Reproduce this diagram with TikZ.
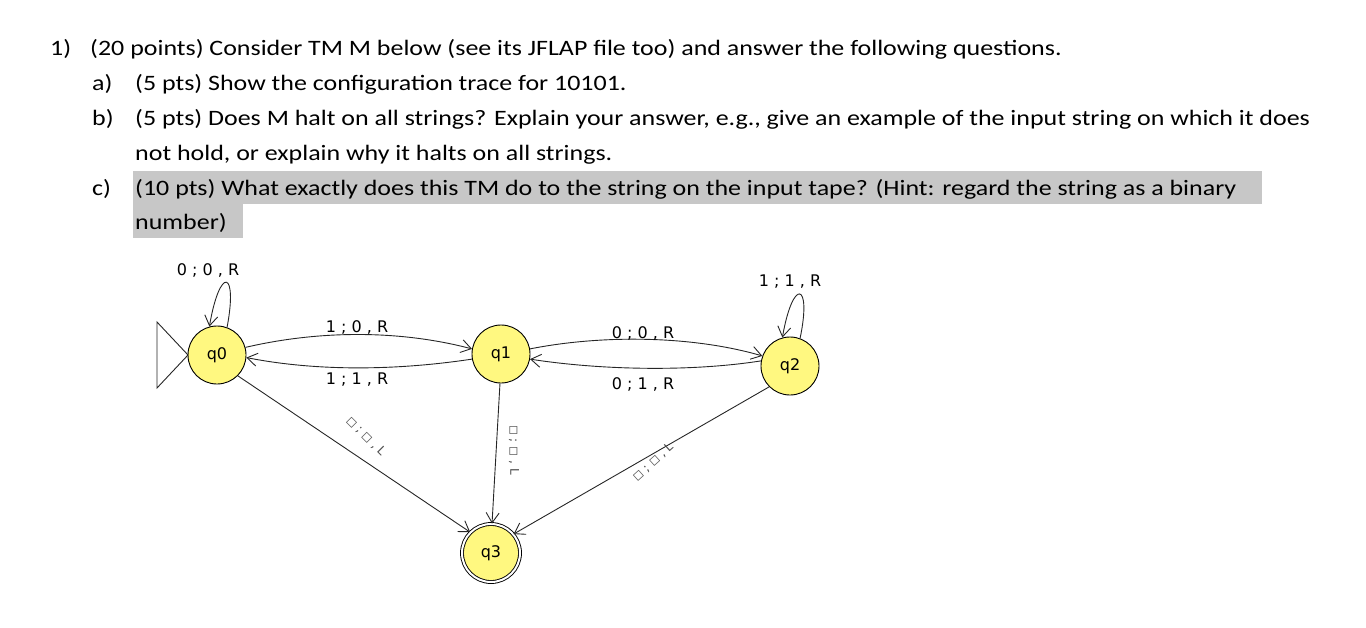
\documentclass[tikz,border=0pt]{standalone}
\usepackage{fontspec}
\setmainfont[FakeStretch=1.18]{Carlito}
\newfontfamily\djfont{DejaVu Sans}
\usetikzlibrary{arrows.meta}
\begin{document}
\begin{tikzpicture}[x=1pt,y=-1pt,
  st/.style={circle,draw=black,line width=0.9pt,fill=yellow!50,minimum size=58pt,inner sep=0pt,font=\djfont\fontsize{16}{16}\selectfont},
  tr/.style={draw=black!85,-{Straight Barb[length=10pt,width=13pt]},line width=0.9pt},
  lb/.style={font=\djfont\fontsize{16}{16}\selectfont},
  sl/.style={font=\djfont\fontsize{12}{12}\selectfont,text=black!70},
  tx/.style={anchor=base west,inner sep=0pt,font=\fontsize{22}{22}\selectfont}]
\useasboundingbox (0,0) rectangle (1366,627);
\fill[black!22] (133,171) rectangle (1262,204);
\fill[black!22] (133,204) rectangle (243,238);
\node[tx] (l1n) at (50,55) {1)};
\node[tx] (l1) at (90,55) {(20 points) Consider TM M below (see its JFLAP file too) and answer the following questions.};
\node[tx] (l2n) at (92,90) {a)};
\node[tx] (l2) at (135,90) {(5 pts) Show the configuration trace for 10101.};
\node[tx] (l3n) at (92,125) {b)};
\node[tx] (l3) at (135,125) {(5 pts) Does M halt on all strings? Explain your answer, e.g., give an example of the input string on which it does};
\node[tx] (l4) at (135,160) {not hold, or explain why it halts on all strings.};
\node[tx] (l5n) at (92,195) {c)};
\node[tx] (l5) at (135,195) {(10 pts) What exactly does this TM do to the string on the input tape? (Hint: regard the string as a binary};
\node[tx] (l6) at (135,229) {number)};
\node[st] (q0) at (217,355) {q0};
\node[st] (q1) at (501,354) {q1};
\node[st] (q2) at (790,366) {q2};
\node[st,double,double distance=2pt] (q3) at (491,553) {q3};
\draw[black!85,line width=0.9pt] (188,355) -- (157,322) -- (157,388) -- cycle;
\draw[tr] (q0.70) .. controls (238,270) and (220,265) .. (q0.105);
\draw[tr] (q2.70) .. controls (812,282) and (793,277) .. (q2.105);
\draw[tr] (q0.15) .. controls (320,330) and (400,330) .. (q1.170);
\draw[tr] (q1.190) .. controls (400,370) and (320,372) .. (q0.-5);
\draw[tr] (q1.10) .. controls (600,335) and (690,335) .. (q2.160);
\draw[tr] (q2.170) .. controls (690,372) and (600,370) .. (q1.-10);
\draw[tr] (q0.-45) -- (q3.135);
\draw[tr] (q1.-92) -- (q3.88);
\draw[tr] (q2.-135) -- (q3.40);
\node[lb] (t00) at (208,270) {0 ; 0 , R};
\node[lb] (t11) at (790,282) {1 ; 1 , R};
\node[lb] (t10) at (357,327) {1 ; 0 , R};
\node[lb] (t111) at (357,380) {1 ; 1 , R};
\node[lb] (t000) at (643,333) {0 ; 0 , R};
\node[lb] (t01) at (643,384) {0 ; 1 , R};
\node[sl,rotate=-45] (b1) at (366,436) {◻ ; ◻ , L};
\node[sl,rotate=-90] (b2) at (514,450) {◻ ; ◻ , L};
\node[sl,rotate=42] (b3) at (653,462) {◻ ; ◻ , L};
\end{tikzpicture}
\end{document}
